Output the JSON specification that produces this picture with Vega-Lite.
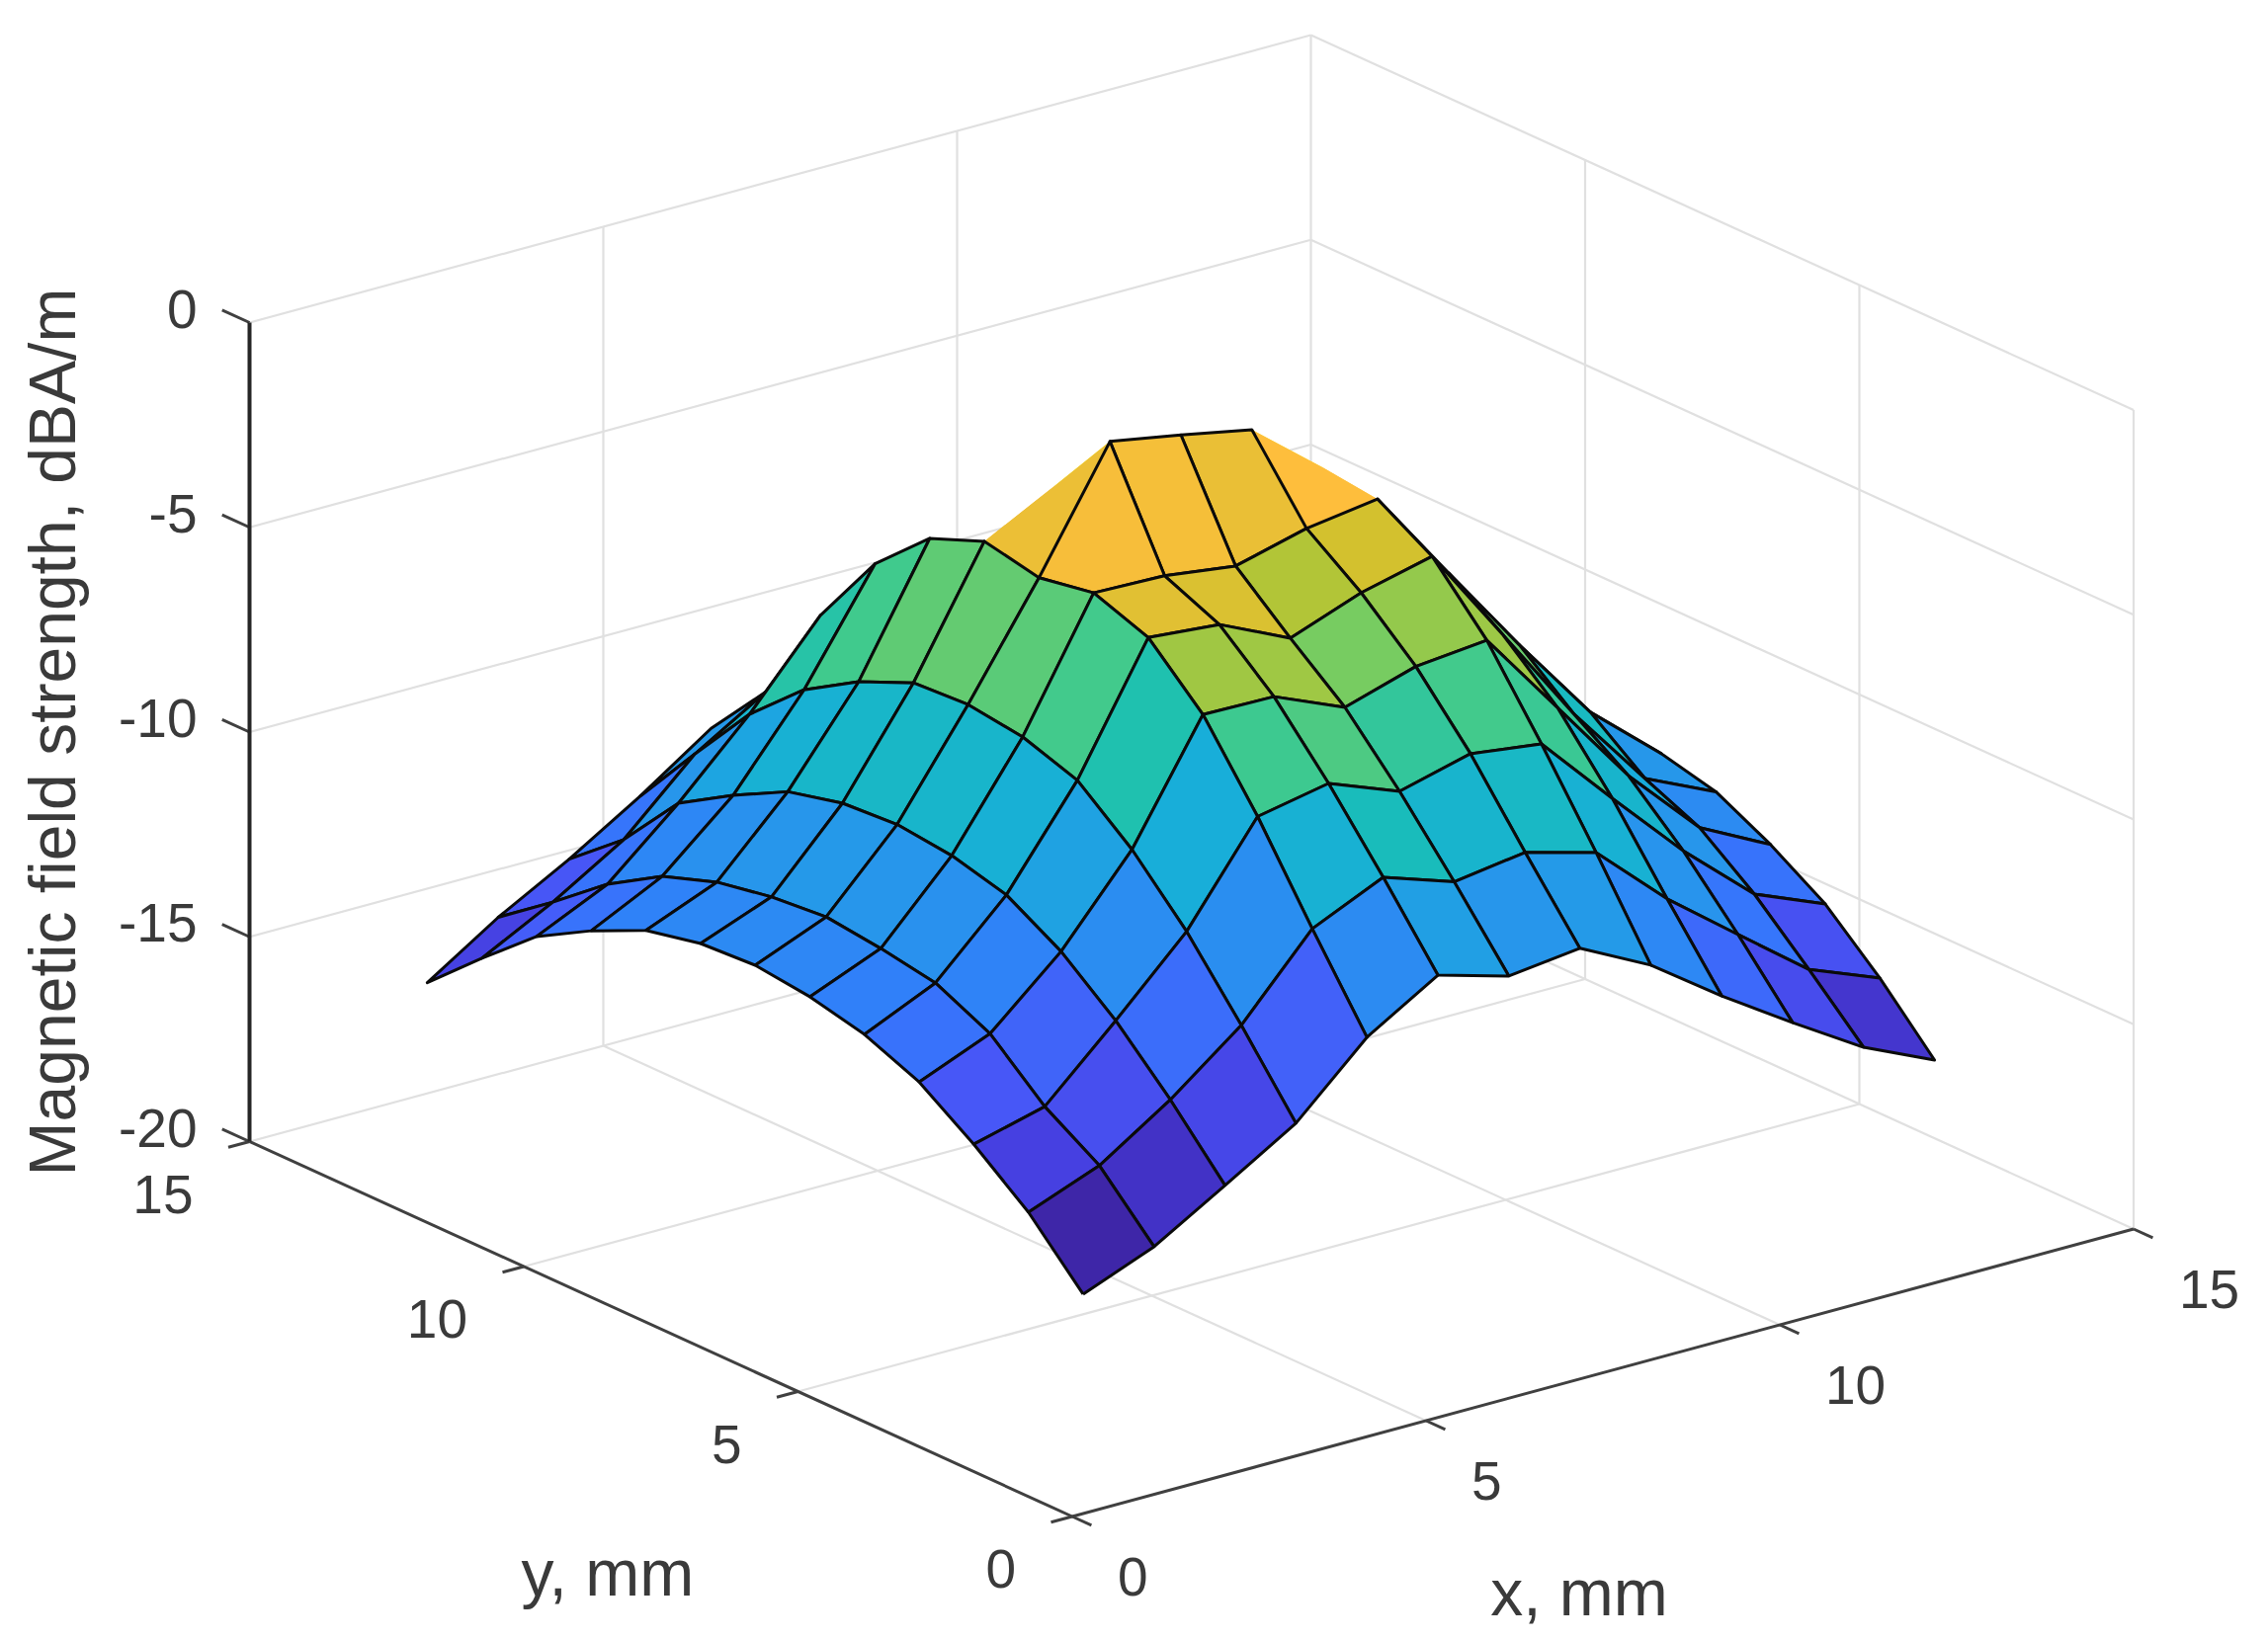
{"$schema":"https://vega.github.io/schema/vega-lite/v6.json","width":2295,"height":1660,"padding":0,"autosize":{"type":"none"},"background":"white","config":{"view":{"stroke":null}},
"datasets":{
"nodes":[
{"x":12,"y":12,"z":-13.8,"k":1212},{"x":12,"y":11,"z":-12.5,"k":1211},{"x":12,"y":10,"z":-11.5,"k":1210},{"x":12,"y":9,"z":-10.8,"k":1209},{"x":12,"y":8,"z":-10.3,"k":1208},{"x":12,"y":7,"z":-10.05,"k":1207},{"x":12,"y":6,"z":-10.02,"k":1206},{"x":12,"y":5,"z":-10.04,"k":1205},{"x":12,"y":4,"z":-10.36,"k":1204},{"x":12,"y":3,"z":-11.04,"k":1203},{"x":12,"y":2,"z":-11.88,"k":1202},{"x":12,"y":1,"z":-13.08,"k":1201},{"x":12,"y":0,"z":-14.47,"k":1200},
{"x":11,"y":12,"z":-12.5,"k":1112},{"x":11,"y":11,"z":-11.2,"k":1111},{"x":11,"y":10,"z":-10.2,"k":1110},{"x":11,"y":9,"z":-9.5,"k":1109},{"x":11,"y":8,"z":-9,"k":1108},{"x":11,"y":7,"z":-8.5,"k":1107},{"x":11,"y":6,"z":-8.4,"k":1106},{"x":11,"y":5,"z":-8.56,"k":1105},{"x":11,"y":4,"z":-9.57,"k":1104},{"x":11,"y":3,"z":-10.16,"k":1103},{"x":11,"y":2,"z":-11.17,"k":1102},{"x":11,"y":1,"z":-12.4,"k":1101},{"x":11,"y":0,"z":-13.69,"k":1100},
{"x":10,"y":12,"z":-11.5,"k":1012},{"x":10,"y":11,"z":-10.2,"k":1011},{"x":10,"y":10,"z":-9,"k":1010},{"x":10,"y":9,"z":-8.2,"k":1009},{"x":10,"y":8,"z":-7.5,"k":1008},{"x":10,"y":7,"z":-6.8,"k":1007},{"x":10,"y":6,"z":-6.4,"k":1006},{"x":10,"y":5,"z":-6.45,"k":1005},{"x":10,"y":4,"z":-7.53,"k":1004},{"x":10,"y":3,"z":-8.43,"k":1003},{"x":10,"y":2,"z":-9.65,"k":1002},{"x":10,"y":1,"z":-11.08,"k":1001},{"x":10,"y":0,"z":-12.62,"k":1000},
{"x":9,"y":12,"z":-11,"k":912},{"x":9,"y":11,"z":-9.5,"k":911},{"x":9,"y":10,"z":-8,"k":910},{"x":9,"y":9,"z":-7,"k":909},{"x":9,"y":8,"z":-6,"k":908},{"x":9,"y":7,"z":-5,"k":907},{"x":9,"y":6,"z":-4.5,"k":906},{"x":9,"y":5,"z":-4.22,"k":905},{"x":9,"y":4,"z":-5.13,"k":904},{"x":9,"y":3,"z":-6.3,"k":903},{"x":9,"y":2,"z":-7.9,"k":902},{"x":9,"y":1,"z":-9.74,"k":901},{"x":9,"y":0,"z":-11.5,"k":900},
{"x":8,"y":12,"z":-10,"k":812},{"x":8,"y":11,"z":-8.5,"k":811},{"x":8,"y":10,"z":-7,"k":810},{"x":8,"y":9,"z":-5.5,"k":809},{"x":8,"y":8,"z":-4,"k":808},{"x":8,"y":7,"z":-2.5,"k":807},{"x":8,"y":6,"z":-1.79,"k":806},{"x":8,"y":5,"z":-1.95,"k":805},{"x":8,"y":4,"z":-2.74,"k":804},{"x":8,"y":3,"z":-4.18,"k":803},{"x":8,"y":2,"z":-6.1,"k":802},{"x":8,"y":1,"z":-8.14,"k":801},{"x":8,"y":0,"z":-10.28,"k":800},
{"x":7,"y":12,"z":-9.5,"k":712},{"x":7,"y":11,"z":-8,"k":711},{"x":7,"y":10,"z":-6.5,"k":710},{"x":7,"y":9,"z":-5,"k":709},{"x":7,"y":8,"z":-3.5,"k":708},{"x":7,"y":7,"z":-2,"k":707},{"x":7,"y":6,"z":-0.4,"k":706},{"x":7,"y":5,"z":-2.2,"k":705},{"x":7,"y":4,"z":-3.16,"k":704},{"x":7,"y":3,"z":-4.35,"k":703},{"x":7,"y":2,"z":-5.87,"k":702},{"x":7,"y":1,"z":-7.67,"k":701},{"x":7,"y":0,"z":-9.4,"k":700},
{"x":6,"y":12,"z":-9,"k":612},{"x":6,"y":11,"z":-7.5,"k":611},{"x":6,"y":10,"z":-6,"k":610},{"x":6,"y":9,"z":-4.5,"k":609},{"x":6,"y":8,"z":-3,"k":608},{"x":6,"y":7,"z":-1.7,"k":607},{"x":6,"y":6,"z":-0.06,"k":606},{"x":6,"y":5,"z":-2.65,"k":605},{"x":6,"y":4,"z":-3.8,"k":604},{"x":6,"y":3,"z":-4.88,"k":603},{"x":6,"y":2,"z":-6.32,"k":602},{"x":6,"y":1,"z":-7.92,"k":601},{"x":6,"y":0,"z":-9.61,"k":600},
{"x":5,"y":12,"z":-9.5,"k":512},{"x":5,"y":11,"z":-8,"k":511},{"x":5,"y":10,"z":-6.5,"k":510},{"x":5,"y":9,"z":-5,"k":509},{"x":5,"y":8,"z":-3.5,"k":508},{"x":5,"y":7,"z":-1.43,"k":507},{"x":5,"y":6,"z":0.25,"k":506},{"x":5,"y":5,"z":-2.42,"k":505},{"x":5,"y":4,"z":-3,"k":504},{"x":5,"y":3,"z":-4.15,"k":503},{"x":5,"y":2,"z":-5.66,"k":502},{"x":5,"y":1,"z":-7.34,"k":501},{"x":5,"y":0,"z":-9.12,"k":500},
{"x":4,"y":12,"z":-9.95,"k":412},{"x":4,"y":11,"z":-8.45,"k":411},{"x":4,"y":10,"z":-5.97,"k":410},{"x":4,"y":9,"z":-4.1,"k":409},{"x":4,"y":8,"z":-2.87,"k":408},{"x":4,"y":7,"z":-2.33,"k":407},{"x":4,"y":6,"z":-2.61,"k":406},{"x":4,"y":5,"z":-2.37,"k":405},{"x":4,"y":4,"z":-2.85,"k":404},{"x":4,"y":3,"z":-4.12,"k":403},{"x":4,"y":2,"z":-6,"k":402},{"x":4,"y":1,"z":-8.13,"k":401},{"x":4,"y":0,"z":-10.17,"k":400},
{"x":3,"y":12,"z":-11.14,"k":312},{"x":3,"y":11,"z":-9.5,"k":311},{"x":3,"y":10,"z":-7.92,"k":310},{"x":3,"y":9,"z":-6.71,"k":309},{"x":3,"y":8,"z":-5.9,"k":308},{"x":3,"y":7,"z":-5.32,"k":307},{"x":3,"y":6,"z":-5.24,"k":306},{"x":3,"y":5,"z":-5.42,"k":305},{"x":3,"y":4,"z":-5.87,"k":304},{"x":3,"y":3,"z":-6.95,"k":303},{"x":3,"y":2,"z":-8.34,"k":302},{"x":3,"y":1,"z":-10.02,"k":301},{"x":3,"y":0,"z":-11.8,"k":300},
{"x":2,"y":12,"z":-12.21,"k":212},{"x":2,"y":11,"z":-11.12,"k":211},{"x":2,"y":10,"z":-9.62,"k":210},{"x":2,"y":9,"z":-8.82,"k":209},{"x":2,"y":8,"z":-8.12,"k":208},{"x":2,"y":7,"z":-7.79,"k":207},{"x":2,"y":6,"z":-7.7,"k":206},{"x":2,"y":5,"z":-7.85,"k":205},{"x":2,"y":4,"z":-8.2,"k":204},{"x":2,"y":3,"z":-8.97,"k":203},{"x":2,"y":2,"z":-10.05,"k":202},{"x":2,"y":1,"z":-11.37,"k":201},{"x":2,"y":0,"z":-12.85,"k":200},
{"x":1,"y":12,"z":-13.16,"k":112},{"x":1,"y":11,"z":-12.18,"k":111},{"x":1,"y":10,"z":-11.13,"k":110},{"x":1,"y":9,"z":-10.33,"k":109},{"x":1,"y":8,"z":-9.86,"k":108},{"x":1,"y":7,"z":-9.61,"k":107},{"x":1,"y":6,"z":-9.49,"k":106},{"x":1,"y":5,"z":-9.65,"k":105},{"x":1,"y":4,"z":-9.88,"k":104},{"x":1,"y":3,"z":-10.51,"k":103},{"x":1,"y":2,"z":-11.68,"k":102},{"x":1,"y":1,"z":-12.51,"k":101},{"x":1,"y":0,"z":-13.88,"k":100},
{"x":0,"y":12,"z":-14.29,"k":12},{"x":0,"y":11,"z":-13.08,"k":11},{"x":0,"y":10,"z":-11.94,"k":10},{"x":0,"y":9,"z":-11.19,"k":9},{"x":0,"y":8,"z":-10.57,"k":8},{"x":0,"y":7,"z":-10.28,"k":7},{"x":0,"y":6,"z":-10.2,"k":6},{"x":0,"y":5,"z":-10.36,"k":5},{"x":0,"y":4,"z":-10.67,"k":4},{"x":0,"y":3,"z":-11.22,"k":3},{"x":0,"y":2,"z":-12.13,"k":2},{"x":0,"y":1,"z":-13.18,"k":1},{"x":0,"y":0,"z":-14.57,"k":0}
],
"grid":[
{"g":1,"xs":[0,15],"ys":[15,15],"zs":[-20,-20]},{"g":2,"xs":[0,15],"ys":[15,15],"zs":[-15,-15]},{"g":3,"xs":[0,15],"ys":[15,15],"zs":[-10,-10]},{"g":4,"xs":[0,15],"ys":[15,15],"zs":[-5,-5]},{"g":5,"xs":[0,15],"ys":[15,15],"zs":[0,0]},
{"g":6,"xs":[5,5],"ys":[15,15],"zs":[-20,0]},{"g":7,"xs":[10,10],"ys":[15,15],"zs":[-20,0]},{"g":8,"xs":[15,15],"ys":[15,15],"zs":[-20,0]},
{"g":9,"xs":[15,15],"ys":[15,0],"zs":[-20,-20]},{"g":10,"xs":[15,15],"ys":[15,0],"zs":[-15,-15]},{"g":11,"xs":[15,15],"ys":[15,0],"zs":[-10,-10]},{"g":12,"xs":[15,15],"ys":[15,0],"zs":[-5,-5]},{"g":13,"xs":[15,15],"ys":[15,0],"zs":[0,0]},
{"g":14,"xs":[15,15],"ys":[10,10],"zs":[-20,0]},{"g":15,"xs":[15,15],"ys":[5,5],"zs":[-20,0]},{"g":16,"xs":[15,15],"ys":[0,0],"zs":[-20,0]},
{"g":17,"xs":[5,5],"ys":[0,15],"zs":[-20,-20]},{"g":18,"xs":[10,10],"ys":[0,15],"zs":[-20,-20]},{"g":19,"xs":[0,15],"ys":[5,5],"zs":[-20,-20]},{"g":20,"xs":[0,15],"ys":[10,10],"zs":[-20,-20]}
],
"axes":[
{"g":1,"xs":[0,15],"ys":[0,0],"zs":[-20,-20]},{"g":2,"xs":[0,0],"ys":[0,15],"zs":[-20,-20]},
{"g":3,"xs":[0,0],"ys":[0,-0.35],"zs":[-20,-20]},{"g":4,"xs":[5,5],"ys":[0,-0.35],"zs":[-20,-20]},{"g":5,"xs":[10,10],"ys":[0,-0.35],"zs":[-20,-20]},{"g":6,"xs":[15,15],"ys":[0,-0.35],"zs":[-20,-20]},
{"g":7,"xs":[0,-0.3],"ys":[0,0],"zs":[-20,-20]},{"g":8,"xs":[0,-0.3],"ys":[5,5],"zs":[-20,-20]},{"g":9,"xs":[0,-0.3],"ys":[10,10],"zs":[-20,-20]},{"g":10,"xs":[0,-0.3],"ys":[15,15],"zs":[-20,-20]},
{"g":11,"xs":[0,0],"ys":[15,15.5],"zs":[-20,-20]},{"g":12,"xs":[0,0],"ys":[15,15.5],"zs":[-15,-15]},{"g":13,"xs":[0,0],"ys":[15,15.5],"zs":[-10,-10]},{"g":14,"xs":[0,0],"ys":[15,15.5],"zs":[-5,-5]},{"g":15,"xs":[0,0],"ys":[15,15.5],"zs":[0,0]}
],
"xlabels":[{"t":"0","x":0},{"t":"5","x":5},{"t":"10","x":10},{"t":"15","x":15}],
"ylabels":[{"t":"0","y":0},{"t":"5","y":5},{"t":"10","y":10},{"t":"15","y":15}],
"zlabels":[{"t":"0","z":0},{"t":"-5","z":-5},{"t":"-10","z":-10},{"t":"-15","z":-15},{"t":"-20","z":-20}]
},
"layer":[
{"data":{"name":"grid"},"transform":[{"flatten":["xs","ys","zs"],"as":["x","y","z"]},{"calculate":"1085+71.6*datum.x-55.5*datum.y","as":"sx"},{"calculate":"1535-19.4*datum.x-25.3*datum.y-41.45*(datum.z+20)","as":"sy"}],
"mark":{"type":"line","stroke":"#e0e0e0","strokeWidth":2.2},
"encoding":{"x":{"field":"sx","type":"quantitative","scale":{"domain":[0,2295],"nice":false,"zero":false},"axis":null},"y":{"field":"sy","type":"quantitative","scale":{"domain":[1660,0],"nice":false,"zero":false},"axis":null},"detail":{"field":"g"}}},
{"data":{"name":"axes"},"transform":[{"flatten":["xs","ys","zs"],"as":["x","y","z"]},{"calculate":"1085+71.6*datum.x-55.5*datum.y","as":"sx"},{"calculate":"1535-19.4*datum.x-25.3*datum.y-41.45*(datum.z+20)","as":"sy"}],
"mark":{"type":"line","stroke":"#404040","strokeWidth":3},
"encoding":{"x":{"field":"sx","type":"quantitative","axis":null},"y":{"field":"sy","type":"quantitative","axis":null},"detail":{"field":"g"}}},
{"data":{"values":[{"x":0,"y":15,"z":-20},{"x":0,"y":15,"z":0}]},"transform":[{"calculate":"1085+71.6*datum.x-55.5*datum.y","as":"sx"},{"calculate":"1535-19.4*datum.x-25.3*datum.y-41.45*(datum.z+20)","as":"sy"}],
"mark":{"type":"line","stroke":"#262626","strokeWidth":4},
"encoding":{"x":{"field":"sx","type":"quantitative","axis":null},"y":{"field":"sy","type":"quantitative","axis":null}}},
{"data":{"name":"nodes"},"transform":[{"filter":"datum.x<12&&datum.y<12"},{"calculate":"[0,1,1,0,0]","as":"dxs"},{"calculate":"[0,0,1,1,0]","as":"dys"},{"calculate":"[0,1,2,3,4]","as":"vs"},{"flatten":["dxs","dys","vs"],"as":["dx","dy","v"]},{"calculate":"100*(datum.x+datum.dx)+datum.y+datum.dy","as":"lk"},{"lookup":"lk","from":{"data":{"name":"nodes"},"key":"k","fields":["z"]},"as":["vz"]},{"calculate":"1096+71.8*(datum.x+datum.dx)-55.3*(datum.y+datum.dy)","as":"sx"},{"calculate":"1535-19.4*(datum.x+datum.dx)-25.3*(datum.y+datum.dy)-41.45*(datum.vz+20)","as":"sy"}],
"mark":{"type":"line","stroke":"#0a0a0a","strokeWidth":3,"strokeJoin":"round","interpolate":"linear"},
"encoding":{"x":{"field":"sx","type":"quantitative","axis":null},"y":{"field":"sy","type":"quantitative","axis":null},"detail":{"field":"k"},"order":{"field":"v","type":"quantitative"},
"fill":{"field":"z","type":"quantitative","legend":null,"scale":{"interpolate":"rgb","domain":[-14.57,-13.335,-12.1,-10.865,-9.63,-8.395,-7.16,-5.925,-4.69,-3.455,-2.22,-0.985,0.25],"range":["#3e26a8","#463cde","#4758f8","#327cfc","#2796eb","#18addb","#19bfb6","#3fca8e","#81cc59","#c5c22a","#febe3c","#f7dc2a","#f9fb15"]}},
"strokeOpacity":{"condition":{"test":"(datum.x>=4&&datum.y>=6)||(datum.x>=7&&datum.x<=8&&datum.y==5)","value":0},"value":1}}},
{"data":{"name":"zlabels"},"transform":[{"calculate":"1085-55.5*15","as":"sx"},{"calculate":"1535-25.3*15-41.45*(datum.z+20)","as":"sy"}],
"mark":{"type":"text","font":"Liberation Sans","fontSize":55,"fill":"#3a3a3a","align":"right","baseline":"middle","dx":-53,"dy":-12},
"encoding":{"x":{"field":"sx","type":"quantitative","axis":null},"y":{"field":"sy","type":"quantitative","axis":null},"text":{"field":"t"}}},
{"data":{"name":"xlabels"},"transform":[{"calculate":"1085+71.6*datum.x","as":"sx"},{"calculate":"1535-19.4*datum.x","as":"sy"}],
"mark":{"type":"text","font":"Liberation Sans","fontSize":55,"fill":"#3a3a3a","align":"left","baseline":"middle","dx":46,"dy":63},
"encoding":{"x":{"field":"sx","type":"quantitative","axis":null},"y":{"field":"sy","type":"quantitative","axis":null},"text":{"field":"t"}}},
{"data":{"name":"ylabels"},"transform":[{"calculate":"1085-55.5*datum.y","as":"sx"},{"calculate":"1535-25.3*datum.y","as":"sy"}],
"mark":{"type":"text","font":"Liberation Sans","fontSize":55,"fill":"#3a3a3a","align":"right","baseline":"middle","dx":-57,"dy":55},
"encoding":{"x":{"field":"sx","type":"quantitative","axis":null},"y":{"field":"sy","type":"quantitative","axis":null},"text":{"field":"t"}}},
{"data":{"values":[{"t":"x, mm","x":7.5,"y":0}]},"transform":[{"calculate":"1085+71.6*datum.x-55.5*datum.y","as":"sx"},{"calculate":"1535-19.4*datum.x-25.3*datum.y","as":"sy"}],
"mark":{"type":"text","font":"Liberation Sans","fontSize":66,"fill":"#3a3a3a","align":"center","baseline":"middle","dx":-24,"dy":225},
"encoding":{"x":{"field":"sx","type":"quantitative","axis":null},"y":{"field":"sy","type":"quantitative","axis":null},"text":{"field":"t"}}},
{"data":{"values":[{"t":"y, mm","x":0,"y":7.5}]},"transform":[{"calculate":"1085+71.6*datum.x-55.5*datum.y","as":"sx"},{"calculate":"1535-19.4*datum.x-25.3*datum.y","as":"sy"}],
"mark":{"type":"text","font":"Liberation Sans","fontSize":66,"fill":"#3a3a3a","align":"center","baseline":"middle","dx":-54,"dy":250},
"encoding":{"x":{"field":"sx","type":"quantitative","axis":null},"y":{"field":"sy","type":"quantitative","axis":null},"text":{"field":"t"}}},
{"data":{"values":[{"t":"Magnetic field strength, dBA/m","x":0,"y":15,"z":-10}]},"transform":[{"calculate":"1085+71.6*datum.x-55.5*datum.y","as":"sx"},{"calculate":"1535-19.4*datum.x-25.3*datum.y-41.45*(datum.z+20)","as":"sy"}],
"mark":{"type":"text","font":"Liberation Sans","fontSize":66,"fill":"#3a3a3a","align":"center","baseline":"middle","angle":270,"dx":0,"dy":-197},
"encoding":{"x":{"field":"sx","type":"quantitative","axis":null},"y":{"field":"sy","type":"quantitative","axis":null},"text":{"field":"t"}}}
]}
